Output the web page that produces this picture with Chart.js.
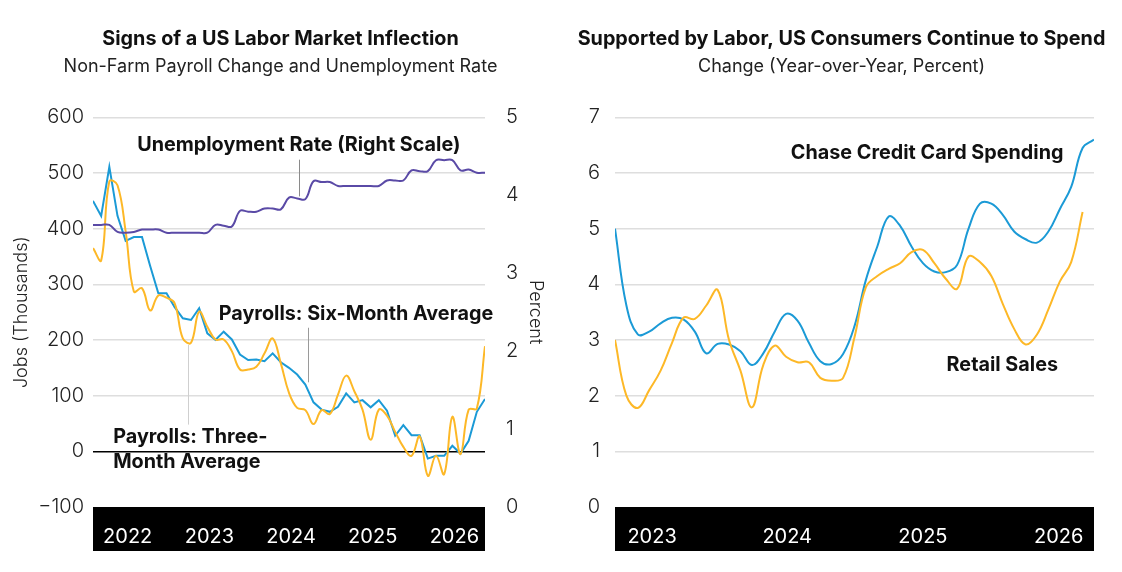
<!DOCTYPE html>
<html>
<head>
<meta charset="utf-8">
<script src="https://cdn.jsdelivr.net/npm/chart.js@4"></script>
<style>
  html, body { margin: 0; padding: 0; background: #fff; }
  #wrap { position: relative; width: 1122px; height: 572px; }
  canvas { position: absolute; top: 0; }
  #chart1 { left: 0; }
  #chart2 { left: 561px; }
</style>
</head>
<body>
<div id="wrap">
  <canvas id="chart1" width="561" height="572"></canvas>
  <canvas id="chart2" width="561" height="572"></canvas>
</div>
<script>
// left panel: payrolls (thousands) + unemployment rate (percent)
const leftYears = ['2022', '2023', '2024', '2025', '2026'];
const leftYearPos = [4.25, 14.25, 24.25, 34.25, 44.25];
const payrollSixMonth = [450, 423, 511, 423, 378, 385, 385, 333, 284, 284, 259, 239, 236, 257, 212, 200, 215, 201, 174, 164,
  165, 162, 176, 160, 150, 138, 120, 88, 75, 71, 80, 104, 88, 92, 79, 92, 73, 28, 47, 29, 29, -13, -8, -8, 10, -4, 19, 71, 94];
const payrollThreeMonth = [365, 343, 485, 478, 395, 287, 293, 253, 280, 276, 266, 203, 195, 251, 224, 201, 201, 180, 147, 147,
  152, 176, 203, 158, 105, 78, 74, 49, 74, 67, 102, 136, 108, 75, 21, 75, 64, 35, 8, -8, 27, -44, -8, -41, 62, -5, 75, 77, 189];
const unemploymentRate = [3.62, 3.62, 3.62, 3.53, 3.52, 3.53, 3.56, 3.56, 3.56, 3.52, 3.52, 3.52, 3.52, 3.52, 3.52, 3.62, 3.61, 3.60,
  3.80, 3.79, 3.79, 3.83, 3.83, 3.82, 3.97, 3.96, 3.95, 4.18, 4.17, 4.17, 4.12, 4.12, 4.12, 4.12, 4.12, 4.12, 4.19, 4.19, 4.19,
  4.32, 4.31, 4.31, 4.45, 4.45, 4.45, 4.32, 4.33, 4.29, 4.29];

// right panel: consumer spending, yoy %
const rightYears = ['2023', '2024', '2025', '2026'];
const rightYearPos = [3.25, 15.1, 27.0, 38.9];
const chaseSpending = [5.0, 3.62, 3.10, 3.15, 3.30, 3.40, 3.37, 3.15, 2.76, 2.93, 2.92, 2.80, 2.55, 2.76, 3.15, 3.47, 3.35, 2.95,
  2.62, 2.57, 2.75, 3.25, 4.08, 4.68, 5.22, 5.05, 4.68, 4.38, 4.23, 4.22, 4.35, 5.0, 5.45, 5.45, 5.25, 4.95, 4.81, 4.75, 4.95,
  5.35, 5.75, 6.45, 6.6];
const retailSales = [3.0, 2.0, 1.78, 2.1, 2.45, 2.95, 3.40, 3.38, 3.62, 3.9, 3.0, 2.45, 1.79, 2.55, 2.9, 2.7, 2.6, 2.6, 2.32, 2.27,
  2.32, 3.05, 3.95, 4.15, 4.28, 4.38, 4.58, 4.62, 4.38, 4.10, 3.92, 4.50, 4.40, 4.15, 3.65, 3.2, 2.92, 3.1, 3.55, 4.05, 4.4, 5.3];

const BLUE = '#1b9ad6';
const YELLOW = '#fdb827';
const PURPLE = '#5a4aa6';
const FONT = 'Inter, "Noto Sans", sans-serif';

Chart.defaults.font.family = FONT;
Chart.defaults.color = '#222';

const toPoints = arr => arr.map((v, i) => ({ x: i, y: v }));
const minus = v => v < 0 ? '\u2212' + Math.abs(v) : String(v);

// black strip behind the year labels
const yearBand = {
  id: 'yearBand',
  beforeDraw(chart) {
    const a = chart.chartArea;
    const c = chart.ctx;
    c.save();
    c.fillStyle = '#000';
    c.fillRect(a.left, a.bottom, a.right - a.left, 44);
    c.restore();
  }
};

// series labels and leader lines, placed in data units
const notes = {
  id: 'notes',
  beforeDatasetsDraw(chart, args, opts) {
    const c = chart.ctx;
    const xs = chart.scales.x;
    c.save();
    (opts.lines || []).forEach(l => {
      const ys = chart.scales[l.axis || 'y'];
      const px = Math.round(xs.getPixelForValue(l.x)) + 0.5;
      c.strokeStyle = l.color;
      c.lineWidth = 1;
      c.beginPath();
      c.moveTo(px, ys.getPixelForValue(l.y0));
      c.lineTo(px, ys.getPixelForValue(l.y1));
      c.stroke();
    });
    c.restore();
  },
  afterDatasetsDraw(chart, args, opts) {
    const c = chart.ctx;
    const xs = chart.scales.x;
    c.save();
    c.font = 'bold 19.8px ' + FONT;
    c.fillStyle = '#111';
    c.textBaseline = 'middle';
    (opts.labels || []).forEach(t => {
      const ys = chart.scales[t.axis || 'y'];
      c.textAlign = t.align || 'center';
      c.fillText(t.text, xs.getPixelForValue(t.x), ys.getPixelForValue(t.y));
    });
    c.restore();
  }
};

function titleOpts(text, sub) {
  return {
    title: {
      display: true, text, color: '#111',
      font: { size: 19.8, weight: 'bold' },
      padding: { top: 27, bottom: 3 }
    },
    subtitle: {
      display: true, text: sub, color: '#222',
      font: { size: 18, weight: 'normal' },
      padding: { top: 2, bottom: 40 }
    },
    legend: { display: false },
    tooltip: { enabled: false }
  };
}

function yearAxis(max, pos, labels) {
  return {
    type: 'linear', min: 0, max,
    afterBuildTicks: s => { s.ticks = pos.map(v => ({ value: v })); },
    afterFit: s => { s.height = 44; },
    grid: { display: false },
    border: { display: false },
    ticks: {
      autoSkip: false, maxRotation: 0, padding: 10, color: '#fff',
      font: { size: 20 },
      callback: (v, i) => labels[i]
    }
  };
}

const tickFont = { size: 20, weight: '300' };

new Chart(document.getElementById('chart1').getContext('2d'), {
  type: 'line',
  data: {
    datasets: [
      { data: toPoints(unemploymentRate), yAxisID: 'y1', borderColor: PURPLE, borderWidth: 2, tension: 0.4, pointRadius: 0 },
      { data: toPoints(payrollThreeMonth), yAxisID: 'y', borderColor: YELLOW, borderWidth: 2, tension: 0.4, pointRadius: 0 },
      { data: toPoints(payrollSixMonth), yAxisID: 'y', borderColor: BLUE, borderWidth: 2, tension: 0, pointRadius: 0 }
    ]
  },
  options: {
    responsive: false,
    animation: false,
    layout: { padding: { left: 0, right: 0, top: 0, bottom: 21 } },
    plugins: Object.assign(titleOpts('Signs of a US Labor Market Inflection', 'Non-Farm Payroll Change and Unemployment Rate'), {
      notes: {
        lines: [
          { x: 25.25, y0: 524, y1: 458, color: '#8a8a8a' },
          { x: 26.35, y0: 222, y1: 124, color: '#9a9a9a' },
          { x: 11.63, y0: 48, y1: 191, color: '#cfcfcf' }
        ],
        labels: [
          { text: 'Unemployment Rate (Right Scale)', x: 25.2, y: 550 },
          { text: 'Payrolls: Six-Month Average', x: 32.2, y: 247 },
          { text: 'Payrolls: Three-', x: 2.47, y: 26, align: 'left' },
          { text: 'Month Average', x: 2.47, y: -19, align: 'left' }
        ]
      }
    }),
    scales: {
      x: yearAxis(48, leftYearPos, leftYears),
      y: {
        position: 'left', min: -100, max: 600,
        afterFit: s => { s.width = 93; },
        border: { display: false },
        grid: {
          drawTicks: false, lineWidth: 1.5,
          color: c => c.tick.value === 0 ? '#000' : (c.tick.value === -100 ? 'rgba(0,0,0,0)' : '#dedede')
        },
        ticks: { stepSize: 100, padding: 9, font: tickFont, callback: minus },
        title: { display: true, text: 'Jobs (Thousands)', font: { size: 18, weight: '300' }, padding: { top: 11 } }
      },
      y1: {
        position: 'right', min: 0, max: 5,
        afterFit: s => { s.width = 76; },
        border: { display: false },
        grid: { display: false },
        ticks: { stepSize: 1, padding: 13, font: tickFont },
        title: { display: true, text: 'Percent', font: { size: 18, weight: '300' }, padding: { top: 15 } }
      }
    }
  },
  plugins: [yearBand, notes]
});

new Chart(document.getElementById('chart2').getContext('2d'), {
  type: 'line',
  data: {
    datasets: [
      { data: toPoints(retailSales), borderColor: YELLOW, borderWidth: 2, tension: 0.4, pointRadius: 0 },
      { data: toPoints(chaseSpending), borderColor: BLUE, borderWidth: 2, tension: 0.4, pointRadius: 0 }
    ]
  },
  options: {
    responsive: false,
    animation: false,
    layout: { padding: { left: 0, right: 0, top: 0, bottom: 21 } },
    plugins: Object.assign(titleOpts('Supported by Labor, US Consumers Continue to Spend', 'Change (Year-over-Year, Percent)'), {
      notes: {
        labels: [
          { text: 'Chase Credit Card Spending', x: 27.37, y: 6.35 },
          { text: 'Retail Sales', x: 33.96, y: 2.555 }
        ]
      }
    }),
    scales: {
      x: yearAxis(42, rightYearPos, rightYears),
      y: {
        position: 'left', min: 0, max: 7,
        afterFit: s => { s.width = 54; },
        border: { display: false },
        grid: {
          drawTicks: false, lineWidth: 1.5,
          color: c => c.tick.value === 0 ? 'rgba(0,0,0,0)' : '#dedede'
        },
        ticks: { stepSize: 1, padding: 15, font: tickFont }
      },
      // empty right gutter so the title stays centred over the whole panel
      gutter: {
        position: 'right', min: 0, max: 1,
        afterFit: s => { s.width = 28; },
        border: { display: false },
        grid: { display: false },
        ticks: { display: false }
      }
    }
  },
  plugins: [yearBand, notes]
});
</script>
</body>
</html>
